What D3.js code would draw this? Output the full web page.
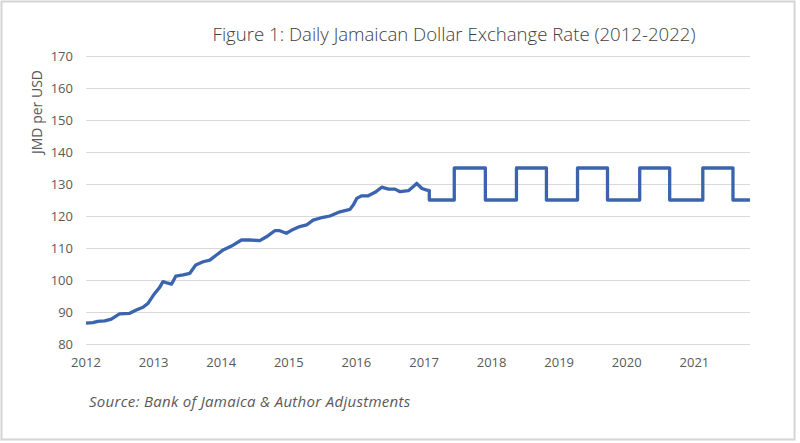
<!DOCTYPE html>
<meta charset="utf-8">
<script src="https://d3js.org/d3.v7.min.js"></script>
<style>
  body { margin: 0; background: #fff; }
  text { font-family: "Open Sans", sans-serif; fill: #595959; }
</style>
<div id="chart"></div>
<script>
// market rate before the adjustment
var marketDates = ["2012-01-04","2012-02-10","2012-03-08","2012-04-14","2012-05-20","2012-07-03",
  "2012-08-27","2012-10-02","2012-11-07","2012-12-04","2013-01-09","2013-02-05","2013-02-23",
  "2013-03-22","2013-04-10","2013-05-03","2013-06-12","2013-07-18","2013-08-19","2013-09-28",
  "2013-11-03","2013-12-09","2014-01-14","2014-02-28","2014-04-23","2014-06-07","2014-07-31",
  "2014-09-05","2014-10-20","2014-11-16","2014-12-22","2015-01-27","2015-03-04","2015-04-10",
  "2015-05-15","2015-07-08","2015-08-14","2015-10-07","2015-12-01","2015-12-18","2016-01-06",
  "2016-02-02","2016-03-08","2016-04-14","2016-05-20","2016-06-25","2016-07-31","2016-08-27",
  "2016-10-11","2016-11-07","2016-11-25","2016-12-23","2017-01-19","2017-01-29"];
var marketRates = [86.5,86.7,87.1,87.2,87.8,89.4,
  89.6,90.6,91.5,92.7,95.8,97.7,99.5,
  99.0,98.7,101.2,101.6,102.1,104.7,105.7,
  106.2,107.8,109.4,110.6,112.5,112.5,112.3,
  113.5,115.4,115.4,114.6,115.8,116.7,117.2,
  118.7,119.6,120.0,121.3,122.1,123.4,125.5,
  126.3,126.3,127.4,129.0,128.4,128.4,127.6,
  127.9,129.2,130.2,128.6,128.1,128.0];

// author adjustment: rate switches between two levels (step after each date)
var stepDates = ["2017-01-29","2017-02-01","2017-06-16","2017-12-01","2018-05-18","2018-10-27",
  "2019-04-13","2019-09-22","2020-03-14","2020-08-23","2021-02-18","2021-07-31","2021-10-31"];
var stepRates = [128.0,125,135,125,135,125,135,125,135,125,135,125,125];

var yearTicks = [2012,2013,2014,2015,2016,2017,2018,2019,2020,2021];
var rateTicks = [80,90,100,110,120,130,140,150,160,170];

var W = 800, H = 443;
var margin = {top: 56, right: 50, bottom: 99, left: 86};
var width = W - margin.left - margin.right,
    height = H - margin.top - margin.bottom;

var parse = d3.timeParse("%Y-%m-%d");
var market = marketDates.map(function(d, i) { return {date: parse(d), value: marketRates[i]}; });
var steps = stepDates.map(function(d, i) { return {date: parse(d), value: stepRates[i]}; });

var svg = d3.select("#chart").append("svg")
    .attr("width", W).attr("height", H);

// chart area border
svg.append("rect")
    .attr("x", 1.5).attr("y", 1.5)
    .attr("width", 793).attr("height", 438)
    .attr("fill", "#fff").attr("stroke", "#d4d4d4").attr("stroke-width", 2);

var g = svg.append("g")
    .attr("transform", "translate(" + margin.left + "," + margin.top + ")");

var x = d3.scaleTime()
    .domain([market[0].date, steps[steps.length - 1].date])
    .range([0, width]);

var y = d3.scaleLinear()
    .domain([80, 170])
    .range([height, 0]);

// gridlines + y labels
var yAxis = g.append("g")
    .call(d3.axisLeft(y).tickValues(rateTicks).tickSize(-width).tickPadding(13));
yAxis.select(".domain").remove();
yAxis.selectAll(".tick line").attr("stroke", "#d9d9d9");
yAxis.selectAll(".tick text")
    .style("font-size", "13px").attr("fill", "#595959");

// x labels
var xAxis = g.append("g")
    .attr("transform", "translate(0," + height + ")")
    .call(d3.axisBottom(x)
      .tickValues(yearTicks.map(function(yr) { return new Date(yr, 0, 1); }))
      .tickFormat(d3.timeFormat("%Y"))
      .tickSize(0).tickPadding(14));
xAxis.select(".domain").remove();
xAxis.selectAll(".tick text")
    .style("font-size", "13px").attr("fill", "#595959");

var line = d3.line()
    .x(function(d) { return x(d.date); })
    .y(function(d) { return y(d.value); });

g.append("path")
    .datum(market)
    .attr("fill", "none")
    .attr("stroke", "#3b64ae")
    .attr("stroke-width", 3.3)
    .attr("stroke-linejoin", "round")
    .attr("d", line);

g.append("path")
    .datum(steps)
    .attr("fill", "none")
    .attr("stroke", "#3b64ae")
    .attr("stroke-width", 3.3)
    .attr("stroke-linejoin", "round")
    .attr("d", line.curve(d3.curveStepAfter));

// title
svg.append("text")
    .attr("x", 454).attr("y", 41)
    .attr("text-anchor", "middle")
    .style("font-size", "18.6px").style("font-weight", 300)
    .style("fill", "#404040")
    .text("Figure 1: Daily Jamaican Dollar Exchange Rate (2012-2022)");

// y axis title
svg.append("text")
    .attr("transform", "translate(42,112) rotate(-90)")
    .attr("text-anchor", "middle")
    .style("font-size", "14px")
    .text("JMD per USD");

// source note
svg.append("text")
    .attr("x", 89).attr("y", 407)
    .style("font-size", "15px").style("font-style", "italic")
    .style("letter-spacing", "0.3px")
    .text("Source: Bank of Jamaica & Author Adjustments");
</script>
